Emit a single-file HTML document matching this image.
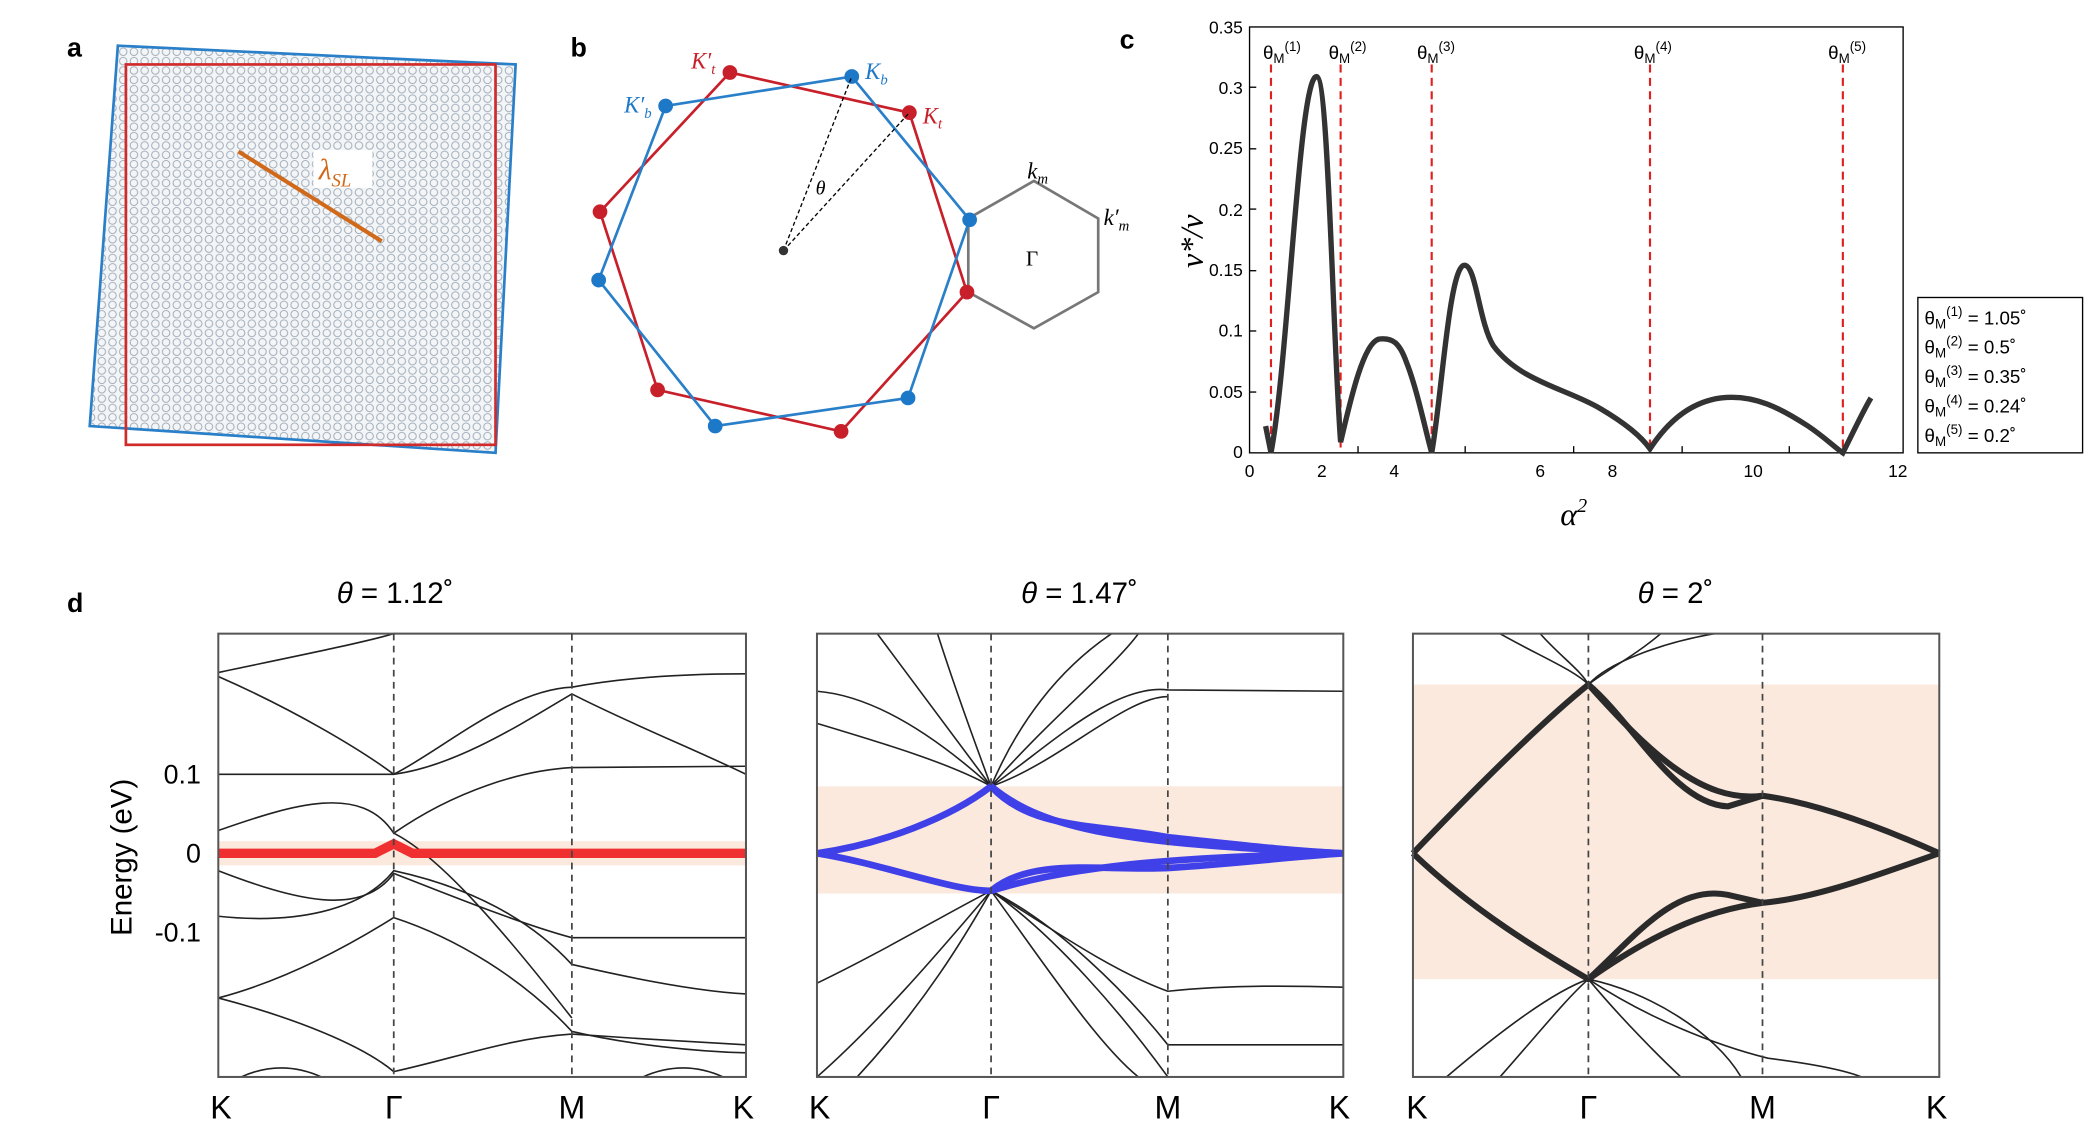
<!DOCTYPE html>
<html><head><meta charset="utf-8"><style>html,body{margin:0;padding:0;background:#fff}svg{display:block}</style></head><body>
<svg width="2100" height="1124" viewBox="0 0 1568 839" xmlns="http://www.w3.org/2000/svg" font-family="Liberation Sans, sans-serif">
<defs>
<pattern id="hx" width="8" height="7" patternUnits="userSpaceOnUse"><rect width="8" height="7" fill="#f3f5f7"/><circle cx="4" cy="3.5" r="2.8" fill="none" stroke="#9aa8b6" stroke-width="0.7"/></pattern>
</defs>
<!-- panel a -->
<text x="50" y="42" font-size="20" font-weight="bold">a</text>
<polygon points="88,34 385,48 370,338 67,318" fill="url(#hx)" stroke="#2a7fc9" stroke-width="2"/>
<rect x="94" y="48" width="276" height="284" fill="none" stroke="#d02a2a" stroke-width="2"/>
<line x1="178" y1="113" x2="285" y2="180" stroke="#d0691a" stroke-width="3"/>
<rect x="234" y="112" width="44" height="28" fill="#fff"/>
<text x="238" y="134" font-size="22" fill="#d0691a" font-style="italic" font-family="Liberation Serif, serif">λ<tspan font-size="14" dy="5">SL</tspan></text>
<!-- panel b -->
<text x="426" y="42" font-size="20" font-weight="bold">b</text>
<polygon points="723,163 772,135 820,163 820,218 772,245 723,218" fill="none" stroke="#777" stroke-width="2"/>
<polygon points="545,54 679,84 722,218 628,322 491,291 448,158" fill="none" stroke="#c8202a" stroke-width="2"/>
<polygon points="497,79 636,57 724,164 678,297 534,318 447,209" fill="none" stroke="#2a7fc9" stroke-width="2"/>
<g fill="#c8202a"><circle cx="545" cy="54" r="5.5"/><circle cx="679" cy="84" r="5.5"/><circle cx="722" cy="218" r="5.5"/><circle cx="628" cy="322" r="5.5"/><circle cx="491" cy="291" r="5.5"/><circle cx="448" cy="158" r="5.5"/></g>
<g fill="#1e78c8"><circle cx="497" cy="79" r="5.5"/><circle cx="636" cy="57" r="5.5"/><circle cx="724" cy="164" r="5.5"/><circle cx="678" cy="297" r="5.5"/><circle cx="534" cy="318" r="5.5"/><circle cx="447" cy="209" r="5.5"/></g>
<line x1="585" y1="187" x2="636" y2="57" stroke="#000" stroke-dasharray="3,2"/>
<line x1="585" y1="187" x2="679" y2="84" stroke="#000" stroke-dasharray="3,2"/>
<circle cx="585" cy="187" r="3.5" fill="#333"/>
<g font-family="Liberation Serif, serif" font-style="italic" font-size="17">
<text x="609" y="145" font-size="15" fill="#000">θ</text>
<text x="516" y="51" fill="#c8202a">K′<tspan font-size="11" dy="4">t</tspan></text>
<text x="689" y="92" fill="#c8202a">K<tspan font-size="11" dy="4">t</tspan></text>
<text x="646" y="59" fill="#1e78c8">K<tspan font-size="11" dy="4">b</tspan></text>
<text x="466" y="84" fill="#1e78c8">K′<tspan font-size="11" dy="4">b</tspan></text>
<text x="767" y="133" fill="#000">k<tspan font-size="11" dy="4">m</tspan></text>
<text x="824" y="168" fill="#000">k′<tspan font-size="11" dy="4">m</tspan></text>
<text x="766" y="198" font-style="normal" font-size="16">Γ</text>
</g>
<!-- panel c -->
<text x="836" y="36" font-size="20" font-weight="bold">c</text>
<rect x="933" y="20" width="488" height="318" fill="none" stroke="#000" stroke-width="1"/>
<g font-size="13" text-anchor="end">
<text x="928" y="342">0</text><text x="928" y="297">0.05</text><text x="928" y="251">0.1</text><text x="928" y="206">0.15</text><text x="928" y="161">0.2</text><text x="928" y="115">0.25</text><text x="928" y="70">0.3</text><text x="928" y="25">0.35</text>
</g>
<g stroke="#000"><line x1="933" y1="292.6" x2="938" y2="292.6"/><line x1="933" y1="247" x2="938" y2="247"/><line x1="933" y1="202" x2="938" y2="202"/><line x1="933" y1="156" x2="938" y2="156"/><line x1="933" y1="111" x2="938" y2="111"/><line x1="933" y1="65" x2="938" y2="65"/>
<line x1="1014" y1="338" x2="1014" y2="333"/><line x1="1094" y1="338" x2="1094" y2="333"/><line x1="1175" y1="338" x2="1175" y2="333"/><line x1="1256" y1="338" x2="1256" y2="333"/><line x1="1336" y1="338" x2="1336" y2="333"/></g>
<g font-size="13" text-anchor="middle"><text x="933" y="356">0</text><text x="987" y="356">2</text><text x="1041" y="356">4</text><text x="1150" y="356">6</text><text x="1204" y="356">8</text><text x="1309" y="356">10</text><text x="1417" y="356">12</text></g>
<text x="1175" y="392" font-size="24" font-style="italic" font-family="Liberation Serif, serif" text-anchor="middle">α<tspan font-size="15" dy="-10">2</tspan></text>
<text transform="translate(898,180) rotate(-90)" font-size="24" font-style="italic" font-family="Liberation Serif, serif" text-anchor="middle">v*/v</text>
<g stroke="#e02020" stroke-width="1.6" stroke-dasharray="6,4"><line x1="949" y1="48" x2="949" y2="338"/><line x1="1001" y1="48" x2="1001" y2="338"/><line x1="1069" y1="48" x2="1069" y2="338"/><line x1="1232" y1="48" x2="1232" y2="338"/><line x1="1376" y1="48" x2="1376" y2="338"/></g>
<g font-size="14"><text x="943" y="44">θ<tspan font-size="10" dy="3">M</tspan><tspan font-size="10" dy="-9">(1)</tspan></text><text x="992" y="44">θ<tspan font-size="10" dy="3">M</tspan><tspan font-size="10" dy="-9">(2)</tspan></text><text x="1058" y="44">θ<tspan font-size="10" dy="3">M</tspan><tspan font-size="10" dy="-9">(3)</tspan></text><text x="1220" y="44">θ<tspan font-size="10" dy="3">M</tspan><tspan font-size="10" dy="-9">(4)</tspan></text><text x="1365" y="44">θ<tspan font-size="10" dy="3">M</tspan><tspan font-size="10" dy="-9">(5)</tspan></text></g>
<path d="M945,318 L949,338 C962,270 970,57 983,57 C992,57 995,250 1001,330 C1008,300 1018,255 1030,253 C1040,252 1045,256 1050,270 C1058,290 1064,320 1069,338 C1076,300 1082,200 1093,198 C1102,196 1104,240 1115,258 C1135,285 1170,290 1195,305 C1212,315 1225,325 1232,335 C1245,315 1262,300 1285,297 C1310,294 1330,305 1350,318 C1362,326 1370,334 1376,338 C1385,320 1392,305 1397,297" fill="none" stroke="#333" stroke-width="4"/>
<rect x="1432" y="222" width="123" height="116" fill="#fff" stroke="#000"/>
<g font-size="14"><text x="1437" y="242">θ<tspan font-size="10" dy="3">M</tspan><tspan font-size="10" dy="-9">(1)</tspan><tspan dy="6"> = 1.05˚</tspan></text><text x="1437" y="264">θ<tspan font-size="10" dy="3">M</tspan><tspan font-size="10" dy="-9">(2)</tspan><tspan dy="6"> = 0.5˚</tspan></text><text x="1437" y="286">θ<tspan font-size="10" dy="3">M</tspan><tspan font-size="10" dy="-9">(3)</tspan><tspan dy="6"> = 0.35˚</tspan></text><text x="1437" y="308">θ<tspan font-size="10" dy="3">M</tspan><tspan font-size="10" dy="-9">(4)</tspan><tspan dy="6"> = 0.24˚</tspan></text><text x="1437" y="330">θ<tspan font-size="10" dy="3">M</tspan><tspan font-size="10" dy="-9">(5)</tspan><tspan dy="6"> = 0.2˚</tspan></text></g>
<!-- panel d -->
<text x="50" y="457" font-size="20" font-weight="bold">d</text>
<text x="295" y="450" font-size="22" text-anchor="middle"><tspan font-style="italic">θ</tspan> = 1.12˚</text>
<text x="806" y="450" font-size="22" text-anchor="middle"><tspan font-style="italic">θ</tspan> = 1.47˚</text>
<text x="1251" y="450" font-size="22" text-anchor="middle"><tspan font-style="italic">θ</tspan> = 2˚</text>
<text transform="translate(98,640) rotate(-90)" font-size="22" text-anchor="middle">Energy (eV)</text>
<g font-size="20" text-anchor="end"><text x="150" y="585">0.1</text><text x="150" y="644">0</text><text x="150" y="703">-0.1</text></g>
<g font-size="24" text-anchor="middle"><text x="165" y="835">K</text><text x="294" y="835">Γ</text><text x="427" y="835">M</text><text x="555" y="835">K</text>
<text x="612" y="835">K</text><text x="740" y="835">Γ</text><text x="872" y="835">M</text><text x="1000" y="835">K</text>
<text x="1058" y="835">K</text><text x="1186" y="835">Γ</text><text x="1316" y="835">M</text><text x="1446" y="835">K</text></g>
<!-- plot 1 -->
<rect x="163" y="628" width="394" height="18" fill="#fbe9de"/>
<g fill="none" stroke="#222" stroke-width="1.2">
<path d="M163,502 C220,490 270,480 294,473 M294,473 L427,473"/>
<path d="M163,505 C220,530 270,560 294,578 C330,560 380,515 427,513 C470,505 520,503 557,503"/>
<path d="M163,578 L294,578 C340,572 390,540 427,518 C470,540 520,560 557,578"/>
<path d="M163,620 C220,600 270,585 294,622 C340,590 390,575 427,573 L557,572"/>
<path d="M163,650 C220,672 270,685 294,652 C340,670 390,690 427,700 L557,700"/>
<path d="M163,684 C220,690 270,680 294,650 C340,660 390,680 427,720 C470,730 520,740 557,742"/>
<path d="M163,745 C220,730 270,700 294,685 C340,700 390,730 427,770 C470,780 520,785 557,786"/>
<path d="M163,745 C220,760 270,780 294,800 C340,790 380,775 427,772 C470,775 520,778 557,780"/>
<path d="M180,804 C200,795 220,795 240,804 M480,804 C500,795 520,795 540,804"/>
<path d="M294,622 C330,640 380,700 427,760"/>
</g>
<path d="M163,637 L280,637 L294,630 L308,637 L557,637" stroke="#f03030" stroke-width="7" fill="none"/>
<!-- plot 2 -->
<rect x="610" y="587" width="393" height="80" fill="#fbe9de"/>
<g fill="none" stroke="#222" stroke-width="1.2">
<path d="M655,473 C690,520 720,560 740,587 C780,540 830,500 850,473"/>
<path d="M700,473 C715,520 730,560 740,587 C760,540 790,500 830,473"/>
<path d="M610,516 C660,520 710,560 740,587 C780,560 830,510 872,515 L1003,516"/>
<path d="M610,540 C660,555 710,570 740,587 C790,570 840,520 872,520"/>
<path d="M610,734 C660,710 710,680 740,665 C780,690 830,725 872,740 C920,735 970,736 1003,737"/>
<path d="M610,804 C660,760 710,700 740,665 C790,700 840,760 872,804"/>
<path d="M640,804 C690,750 720,700 740,665 C780,720 820,780 850,804"/>
<path d="M740,665 C790,690 840,740 872,780 L1003,780"/>
</g>
<g fill="none" stroke="#4040e8" stroke-width="5">
<path d="M610,637 C660,630 710,610 740,587 C780,620 840,630 1003,637"/>
<path d="M610,637 C660,645 710,665 740,665 C790,650 850,640 1003,637"/>
<path d="M740,587 C770,620 820,615 872,625 C920,630 960,635 1003,637"/>
<path d="M740,665 C770,640 820,650 872,648 C920,645 960,640 1003,637"/>
</g>
<!-- plot 3 -->
<rect x="1055" y="511" width="393" height="220" fill="#fbe9de"/>
<g fill="none" stroke="#222" stroke-width="1.2">
<path d="M1120,473 C1150,490 1175,500 1186,511 C1200,500 1220,490 1240,473"/>
<path d="M1150,473 C1165,490 1180,500 1186,511 C1200,495 1240,480 1280,473"/>
<path d="M1080,804 C1120,770 1160,740 1186,731 C1230,740 1280,770 1300,804"/>
<path d="M1120,804 C1150,770 1170,745 1186,731 C1210,760 1240,790 1255,804"/>
<path d="M1186,731 C1230,760 1280,780 1320,790 C1360,795 1380,800 1390,804"/>
</g>
<g fill="none" stroke="#2a2a2a" stroke-width="4.5">
<path d="M1055,637 C1100,590 1150,540 1186,511 C1230,560 1270,600 1316,594 C1360,600 1410,620 1448,637"/>
<path d="M1055,637 C1100,680 1150,710 1186,731 C1230,700 1270,680 1316,674 C1360,670 1410,650 1448,637"/>
<path d="M1186,511 C1220,540 1250,600 1290,602 L1316,594"/>
<path d="M1186,731 C1220,700 1250,660 1290,668 L1316,674"/>
</g>
<!-- frames & grid lines -->
<g fill="none" stroke="#555" stroke-width="1.5">
<rect x="163" y="473" width="394" height="331"/><rect x="610" y="473" width="393" height="331"/><rect x="1055" y="473" width="393" height="331"/>
</g>
<g stroke="#444" stroke-width="1.3" stroke-dasharray="5,4">
<line x1="294" y1="473" x2="294" y2="804"/><line x1="427" y1="473" x2="427" y2="804"/>
<line x1="740" y1="473" x2="740" y2="804"/><line x1="872" y1="473" x2="872" y2="804"/>
<line x1="1186" y1="473" x2="1186" y2="804"/><line x1="1316" y1="473" x2="1316" y2="804"/>
</g>
</svg>
</body></html>
